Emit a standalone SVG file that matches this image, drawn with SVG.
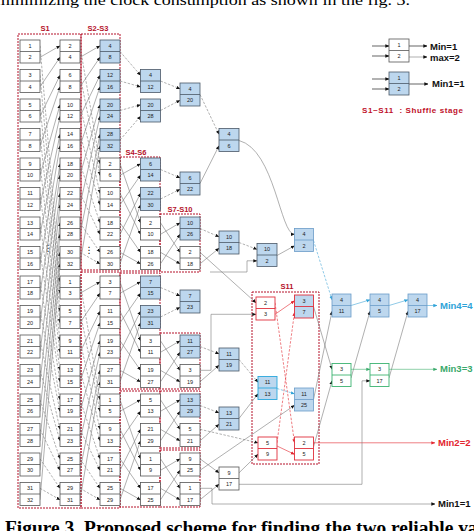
<svg xmlns="http://www.w3.org/2000/svg" width="474" height="531" viewBox="0 0 474 531">
<style>
.n text{font-family:"Liberation Sans",Arial,sans-serif;font-size:5.5px;fill:#222;text-anchor:middle}
.bw{fill:#fff;stroke:#555;stroke-width:.8}
.bb{fill:#bdd7ee;stroke:#4a5866;stroke-width:.8}
.bl{fill:#bdd7ee;stroke:#6a9cc8;stroke-width:.8}
.br{fill:#fff;stroke:#e0303c;stroke-width:.9}
.brb{fill:#bdd7ee;stroke:#e0303c;stroke-width:.9}
.bc{fill:#bdd7ee;stroke:#2aa8dc;stroke-width:.9}
.bg{fill:#fff;stroke:#3cb371;stroke-width:.9}
.c path{fill:none;stroke:#7a7a7a;stroke-width:.6;marker-end:url(#ak)}
.c path.d{stroke-dasharray:2.5 1.5}
.c path.cy{stroke:#45a6d6;marker-end:url(#ac)}
.c path.gr{stroke:#45b070;marker-end:url(#ag)}
.c path.rd{stroke:#e3262f;marker-end:url(#ar)}
.c path.k{stroke:#222;stroke-width:.7}
.stg rect{fill:none;stroke:#b5122a;stroke-width:1;stroke-dasharray:2 1}
.lab{font-family:"Liberation Sans",Arial,sans-serif;font-weight:bold;fill:#b5122a;font-size:7.5px;text-anchor:middle}
.mn{font-family:"Liberation Sans",Arial,sans-serif;font-weight:bold;font-size:9.5px}
</style>
<defs>
<marker id="ak" viewBox="0 0 6 6" refX="5.5" refY="3" markerWidth="4" markerHeight="4" markerUnits="userSpaceOnUse" orient="auto"><path d="M0,.5L6,3L0,5.5z" fill="#111"/></marker>
<marker id="ac" viewBox="0 0 6 6" refX="5.5" refY="3" markerWidth="4" markerHeight="4" markerUnits="userSpaceOnUse" orient="auto"><path d="M0,.5L6,3L0,5.5z" fill="#2ea3d8"/></marker>
<marker id="ag" viewBox="0 0 6 6" refX="5.5" refY="3" markerWidth="4" markerHeight="4" markerUnits="userSpaceOnUse" orient="auto"><path d="M0,.5L6,3L0,5.5z" fill="#39a96b"/></marker>
<marker id="ar" viewBox="0 0 6 6" refX="5.5" refY="3" markerWidth="4" markerHeight="4" markerUnits="userSpaceOnUse" orient="auto"><path d="M0,.5L6,3L0,5.5z" fill="#e3262f"/></marker>
<g id="W"><rect class="bw" width="20" height="23"/><path class="bw" d="M0 11.5H20"/></g>
<g id="B"><rect class="bb" width="20" height="23"/><path class="bb" d="M0 11.5H20"/></g>
<g id="L"><rect class="bl" width="19" height="23"/><path class="bl" d="M0 11.5H19"/></g>
<g id="R"><rect class="br" width="19" height="23"/><path class="br" d="M0 11.5H19"/></g>
<g id="RB"><rect class="brb" width="19" height="23"/><path class="brb" d="M0 11.5H19"/></g>
<g id="C"><rect class="bc" width="19" height="23"/><path class="bc" d="M0 11.5H19"/></g>
<g id="G"><rect class="bg" width="19" height="23"/><path class="bg" d="M0 11.5H19"/></g>
</defs>
<rect width="474" height="531" fill="#fff"/>
<text x="-4" y="5" font-family="Liberation Serif,serif" font-size="15" textLength="414" lengthAdjust="spacingAndGlyphs">minimizing the clock consumption as shown in the fig. 3.</text>
<text x="5" y="534" font-family="Liberation Serif,serif" font-size="18" font-weight="bold" textLength="505" lengthAdjust="spacingAndGlyphs">Figure 3. Proposed scheme for finding the two reliable values</text>

<g id="stages" class="stg">
<rect x="18" y="34" width="63" height="474"/>
<rect x="81" y="34" width="39" height="236"/>
<rect x="81" y="272" width="39" height="236"/>
<rect x="120" y="157" width="40" height="114"/>
<rect x="120" y="273" width="40" height="116"/>
<rect x="120" y="391" width="40" height="116"/>
<rect x="160" y="214" width="40" height="58"/>
<rect x="160" y="333" width="40" height="56"/>
<rect x="160" y="391" width="40" height="57"/>
<rect x="160" y="450" width="40" height="57"/>
<rect x="252" y="292" width="67" height="172"/>
</g>
<g id="labels">
<text class="lab" x="45" y="31">S1</text>
<text class="lab" x="98" y="31">S2-S3</text>
<text class="lab" x="136" y="155">S4-S6</text>
<text class="lab" x="180" y="212">S7-S10</text>
<text class="lab" x="287" y="289">S11</text>
<text x="48" y="251" font-family="DejaVu Sans,sans-serif" font-size="9" text-anchor="middle">⋮</text>
<text x="89" y="253" font-family="DejaVu Sans,sans-serif" font-size="9" text-anchor="middle">⋮</text>
<text class="mn" x="440" y="309" fill="#2ea3d8">Min4=4</text>
<text class="mn" x="440" y="372" fill="#39a96b">Min3=3</text>
<text class="mn" x="438" y="446" fill="#e3262f">Min2=2</text>
<text class="mn" x="438" y="507" fill="#111">Min1=1</text>
<text class="mn" x="430" y="49.5" fill="#111" font-size="9">Min=1</text>
<text class="mn" x="430" y="60.5" fill="#111" font-size="9">max=2</text>
<text class="mn" x="432" y="87" fill="#111" font-size="9">Min1=1</text>
<text x="362" y="113" font-family="Liberation Sans,Arial,sans-serif" font-weight="bold" font-size="8" fill="#c0102a" textLength="101" xml:space="preserve">S1~S11  : Shuffle stage</text>
</g>

<g id="connectors" class="c">
<path class="d" d="M40 45.8L60 281.8"/><path d="M40 57.3L60 45.8"/>
<path class="d" d="M40 75.3L60 293.3"/><path d="M40 86.8L60 57.3"/>
<path class="d" d="M40 104.8L60 311.3"/><path d="M40 116.3L60 75.3"/>
<path class="d" d="M40 134.3L60 322.8"/><path d="M40 145.8L60 86.8"/>
<path class="d" d="M40 163.8L60 340.8"/><path d="M40 175.3L60 104.8"/>
<path class="d" d="M40 193.3L60 352.3"/><path d="M40 204.8L60 116.3"/>
<path class="d" d="M40 222.8L60 370.3"/><path d="M40 234.3L60 134.3"/>
<path class="d" d="M40 252.3L60 381.8"/><path d="M40 263.8L60 145.8"/>
<path class="d" d="M40 281.8L60 399.8"/><path d="M40 293.3L60 163.8"/>
<path class="d" d="M40 311.3L60 411.3"/><path d="M40 322.8L60 175.3"/>
<path class="d" d="M40 340.8L60 429.3"/><path d="M40 352.3L60 193.3"/>
<path class="d" d="M40 370.3L60 440.8"/><path d="M40 381.8L60 204.8"/>
<path class="d" d="M40 399.8L60 458.8"/><path d="M40 411.3L60 222.8"/>
<path class="d" d="M40 429.3L60 470.3"/><path d="M40 440.8L60 234.3"/>
<path class="d" d="M40 458.8L60 488.3"/><path d="M40 470.3L60 252.3"/>
<path class="d" d="M40 488.3L60 499.8"/><path d="M40 499.8L60 263.8"/>

<path class="d" d="M80 45.8L100 163.8"/><path d="M80 57.3L100 45.8"/>
<path class="d" d="M80 75.3L100 175.3"/><path d="M80 86.8L100 57.3"/>
<path class="d" d="M80 104.8L100 193.3"/><path d="M80 116.3L100 75.3"/>
<path class="d" d="M80 134.3L100 204.8"/><path d="M80 145.8L100 86.8"/>
<path class="d" d="M80 163.8L100 222.8"/><path d="M80 175.3L100 104.8"/>
<path class="d" d="M80 193.3L100 234.3"/><path d="M80 204.8L100 116.3"/>
<path class="d" d="M80 222.8L100 252.3"/><path d="M80 234.3L100 134.3"/>
<path class="d" d="M80 252.3L100 263.8"/><path d="M80 263.8L100 145.8"/>
<path class="d" d="M80 281.8L100 399.8"/><path d="M80 293.3L100 281.8"/>
<path class="d" d="M80 311.3L100 411.3"/><path d="M80 322.8L100 293.3"/>
<path class="d" d="M80 340.8L100 429.3"/><path d="M80 352.3L100 311.3"/>
<path class="d" d="M80 370.3L100 440.8"/><path d="M80 381.8L100 322.8"/>
<path class="d" d="M80 399.8L100 458.8"/><path d="M80 411.3L100 340.8"/>
<path class="d" d="M80 429.3L100 470.3"/><path d="M80 440.8L100 352.3"/>
<path class="d" d="M80 458.8L100 488.3"/><path d="M80 470.3L100 370.3"/>
<path class="d" d="M80 488.3L100 499.8"/><path d="M80 499.8L100 381.8"/>

<path class="d" d="M120 51.5L140.5 75.3"/><path class="d" d="M120 81L140.5 86.8"/>
<path class="d" d="M120 110.5L140.5 104.8"/><path class="d" d="M120 140L140.5 116.3"/>
<path d="M120 163.8L140.5 222.8"/><path d="M120 175.3L140.5 163.8"/>
<path d="M120 193.3L140.5 234.3"/><path d="M120 204.8L140.5 175.3"/>
<path d="M120 222.8L140.5 252.3"/><path d="M120 234.3L140.5 193.3"/>
<path d="M120 252.3L140.5 263.8"/><path d="M120 263.8L140.5 204.8"/>
<path d="M120 281.8L140.5 340.8"/><path d="M120 293.3L140.5 281.8"/>
<path d="M120 311.3L140.5 352.3"/><path d="M120 322.8L140.5 293.3"/>
<path d="M120 340.8L140.5 370.3"/><path d="M120 352.3L140.5 311.3"/>
<path d="M120 370.3L140.5 381.8"/><path d="M120 381.8L140.5 322.8"/>
<path d="M120 399.8L140.5 458.8"/><path d="M120 411.3L140.5 399.8"/>
<path d="M120 429.3L140.5 470.3"/><path d="M120 440.8L140.5 411.3"/>
<path d="M120 458.8L140.5 488.3"/><path d="M120 470.3L140.5 429.3"/>
<path d="M120 488.3L140.5 499.8"/><path d="M120 499.8L140.5 440.8"/>

<path class="d" d="M160.5 81L180 88.8"/><path class="d" d="M160.5 110.5L180 100.3"/>
<path class="d" d="M160.5 169.5L180 177.8"/><path class="d" d="M160.5 199L180 189.3"/>
<path d="M160.5 222.8L180 252.3"/><path d="M160.5 234.3L180 222.8"/>
<path d="M160.5 252.3L180 263.8"/><path d="M160.5 263.8L180 234.3"/>
<path class="d" d="M160.5 287.5L180 295.8"/><path class="d" d="M160.5 317L180 307.3"/>
<path d="M160.5 340.8L180 370.3"/><path d="M160.5 352.3L180 340.8"/>
<path d="M160.5 370.3L180 381.8"/><path d="M160.5 381.8L180 352.3"/>
<path d="M160.5 399.8L180 429.3"/><path d="M160.5 411.3L180 399.8"/>
<path d="M160.5 429.3L180 440.8"/><path d="M160.5 440.8L180 411.3"/>
<path d="M160.5 458.8L180 488.3"/><path d="M160.5 470.3L180 458.8"/>
<path d="M160.5 488.3L180 499.8"/><path d="M160.5 499.8L180 470.3"/>

<path class="d" d="M200 94.5L219 134.3"/><path d="M200 183.5L219 145.8"/>
<path class="d" d="M200 228.5L219 236.8"/><path d="M200 263.8L219 248.3"/>
<path class="d" d="M200 346.5L219 353.8"/><path d="M200 381.8L219 365.3"/>
<path class="d" d="M200 405.5L219 412.8"/><path d="M200 440.8L219 424.3"/>
<path d="M200 458.8L219 472.8"/><path d="M200 499.8L219 484.3"/>

<path class="d" d="M239 242.5L257 249.3"/>
<path d="M210 272H247V260.8H257"/>
<path d="M200 252.3L256 302.8"/>
<path d="M200 370.3H211V314.3H256"/>
<path class="d" d="M239 359.5L258 382.3"/>
<path d="M239 418.5L258 393.8"/>
<path class="d" d="M200 429.3L258 442.8"/>
<path d="M239 472.8L258 454.3"/>

<path d="M239 140.5C275 150 280 234.3 294.5 234.3"/>
<path d="M277 255.5L294.5 245.8"/>
<path class="rd" d="M275 314.3L294.5 300.8"/>
<path class="rd d" d="M275 302.8L294.5 442.8"/>
<path class="rd d" d="M277 442.8L294.5 312.3"/>
<path class="rd" d="M277 446L294.5 454.3"/>
<path class="cy d" d="M277 388.5L294.5 393.8"/>
<path d="M200 470.3L294.5 405.3"/>

<path class="cy d" d="M313.5 240.5L332 299.8"/>
<path d="M313.5 399.5L332 311.3"/>
<path d="M313.5 306.5L332 369.3"/>
<path d="M313.5 447L332 380.8"/>
<path class="rd" d="M313.5 442.8H435"/>
<path class="cy" d="M351 305.5L370 299.8"/>
<path d="M351 378L370 311.3"/>
<path class="gr" d="M351 369.3H370"/>
<path d="M239 484.3H362V380.8H370"/>
<path class="cy" d="M389 305.5L408 299.8"/>
<path d="M389 378L408 311.3"/>
<path class="gr" d="M389 369.3H437"/>
<path class="cy" d="M427 305.5H437"/>
<path d="M200 488.3H212V504H435"/>

<path class="k" d="M372 46H389"/><path class="k" d="M372 56H389"/>
<path class="k" d="M408 46H427"/><path d="M408 57H427"/>
<path class="k" d="M372 79H389"/><path class="k" d="M372 89H389"/>
<path class="k" d="M408 84H428"/>
</g>

<g id="col1">
<g id="a1" class="n" transform="translate(20,40)"><use href="#W"/><text x="10" y="7.8">1</text><text x="10" y="19.3">2</text></g>
<g id="a2" class="n" transform="translate(20,69.5)"><use href="#W"/><text x="10" y="7.8">3</text><text x="10" y="19.3">4</text></g>
<g id="a3" class="n" transform="translate(20,99)"><use href="#W"/><text x="10" y="7.8">5</text><text x="10" y="19.3">6</text></g>
<g id="a4" class="n" transform="translate(20,128.5)"><use href="#W"/><text x="10" y="7.8">7</text><text x="10" y="19.3">8</text></g>
<g id="a5" class="n" transform="translate(20,158)"><use href="#W"/><text x="10" y="7.8">9</text><text x="10" y="19.3">10</text></g>
<g id="a6" class="n" transform="translate(20,187.5)"><use href="#W"/><text x="10" y="7.8">11</text><text x="10" y="19.3">12</text></g>
<g id="a7" class="n" transform="translate(20,217)"><use href="#W"/><text x="10" y="7.8">13</text><text x="10" y="19.3">14</text></g>
<g id="a8" class="n" transform="translate(20,246.5)"><use href="#W"/><text x="10" y="7.8">15</text><text x="10" y="19.3">16</text></g>
<g id="a9" class="n" transform="translate(20,276)"><use href="#W"/><text x="10" y="7.8">17</text><text x="10" y="19.3">18</text></g>
<g id="a10" class="n" transform="translate(20,305.5)"><use href="#W"/><text x="10" y="7.8">19</text><text x="10" y="19.3">20</text></g>
<g id="a11" class="n" transform="translate(20,335)"><use href="#W"/><text x="10" y="7.8">21</text><text x="10" y="19.3">22</text></g>
<g id="a12" class="n" transform="translate(20,364.5)"><use href="#W"/><text x="10" y="7.8">23</text><text x="10" y="19.3">24</text></g>
<g id="a13" class="n" transform="translate(20,394)"><use href="#W"/><text x="10" y="7.8">25</text><text x="10" y="19.3">26</text></g>
<g id="a14" class="n" transform="translate(20,423.5)"><use href="#W"/><text x="10" y="7.8">27</text><text x="10" y="19.3">28</text></g>
<g id="a15" class="n" transform="translate(20,453)"><use href="#W"/><text x="10" y="7.8">29</text><text x="10" y="19.3">30</text></g>
<g id="a16" class="n" transform="translate(20,482.5)"><use href="#W"/><text x="10" y="7.8">31</text><text x="10" y="19.3">32</text></g>
</g>
<g id="col2">
<g id="b1" class="n" transform="translate(60,40)"><use href="#W"/><text x="10" y="7.8">2</text><text x="10" y="19.3">4</text></g>
<g id="b2" class="n" transform="translate(60,69.5)"><use href="#W"/><text x="10" y="7.8">6</text><text x="10" y="19.3">8</text></g>
<g id="b3" class="n" transform="translate(60,99)"><use href="#W"/><text x="10" y="7.8">10</text><text x="10" y="19.3">12</text></g>
<g id="b4" class="n" transform="translate(60,128.5)"><use href="#W"/><text x="10" y="7.8">14</text><text x="10" y="19.3">16</text></g>
<g id="b5" class="n" transform="translate(60,158)"><use href="#W"/><text x="10" y="7.8">18</text><text x="10" y="19.3">20</text></g>
<g id="b6" class="n" transform="translate(60,187.5)"><use href="#W"/><text x="10" y="7.8">22</text><text x="10" y="19.3">24</text></g>
<g id="b7" class="n" transform="translate(60,217)"><use href="#W"/><text x="10" y="7.8">26</text><text x="10" y="19.3">28</text></g>
<g id="b8" class="n" transform="translate(60,246.5)"><use href="#W"/><text x="10" y="7.8">30</text><text x="10" y="19.3">32</text></g>
<g id="b9" class="n" transform="translate(60,276)"><use href="#W"/><text x="10" y="7.8">1</text><text x="10" y="19.3">3</text></g>
<g id="b10" class="n" transform="translate(60,305.5)"><use href="#W"/><text x="10" y="7.8">5</text><text x="10" y="19.3">7</text></g>
<g id="b11" class="n" transform="translate(60,335)"><use href="#W"/><text x="10" y="7.8">9</text><text x="10" y="19.3">11</text></g>
<g id="b12" class="n" transform="translate(60,364.5)"><use href="#W"/><text x="10" y="7.8">13</text><text x="10" y="19.3">15</text></g>
<g id="b13" class="n" transform="translate(60,394)"><use href="#W"/><text x="10" y="7.8">17</text><text x="10" y="19.3">19</text></g>
<g id="b14" class="n" transform="translate(60,423.5)"><use href="#W"/><text x="10" y="7.8">21</text><text x="10" y="19.3">23</text></g>
<g id="b15" class="n" transform="translate(60,453)"><use href="#W"/><text x="10" y="7.8">25</text><text x="10" y="19.3">27</text></g>
<g id="b16" class="n" transform="translate(60,482.5)"><use href="#W"/><text x="10" y="7.8">29</text><text x="10" y="19.3">31</text></g>
</g>
<g id="col3">
<g id="c1" class="n" transform="translate(100,40)"><use href="#B"/><text x="10" y="7.8">4</text><text x="10" y="19.3">8</text></g>
<g id="c2" class="n" transform="translate(100,69.5)"><use href="#B"/><text x="10" y="7.8">12</text><text x="10" y="19.3">16</text></g>
<g id="c3" class="n" transform="translate(100,99)"><use href="#B"/><text x="10" y="7.8">20</text><text x="10" y="19.3">24</text></g>
<g id="c4" class="n" transform="translate(100,128.5)"><use href="#B"/><text x="10" y="7.8">28</text><text x="10" y="19.3">32</text></g>
<g id="c5" class="n" transform="translate(100,158)"><use href="#W"/><text x="10" y="7.8">2</text><text x="10" y="19.3">6</text></g>
<g id="c6" class="n" transform="translate(100,187.5)"><use href="#W"/><text x="10" y="7.8">10</text><text x="10" y="19.3">14</text></g>
<g id="c7" class="n" transform="translate(100,217)"><use href="#W"/><text x="10" y="7.8">18</text><text x="10" y="19.3">22</text></g>
<g id="c8" class="n" transform="translate(100,246.5)"><use href="#W"/><text x="10" y="7.8">26</text><text x="10" y="19.3">30</text></g>
<g id="c9" class="n" transform="translate(100,276)"><use href="#W"/><text x="10" y="7.8">3</text><text x="10" y="19.3">7</text></g>
<g id="c10" class="n" transform="translate(100,305.5)"><use href="#W"/><text x="10" y="7.8">11</text><text x="10" y="19.3">15</text></g>
<g id="c11" class="n" transform="translate(100,335)"><use href="#W"/><text x="10" y="7.8">19</text><text x="10" y="19.3">23</text></g>
<g id="c12" class="n" transform="translate(100,364.5)"><use href="#W"/><text x="10" y="7.8">27</text><text x="10" y="19.3">31</text></g>
<g id="c13" class="n" transform="translate(100,394)"><use href="#W"/><text x="10" y="7.8">1</text><text x="10" y="19.3">5</text></g>
<g id="c14" class="n" transform="translate(100,423.5)"><use href="#W"/><text x="10" y="7.8">9</text><text x="10" y="19.3">13</text></g>
<g id="c15" class="n" transform="translate(100,453)"><use href="#W"/><text x="10" y="7.8">17</text><text x="10" y="19.3">21</text></g>
<g id="c16" class="n" transform="translate(100,482.5)"><use href="#W"/><text x="10" y="7.8">25</text><text x="10" y="19.3">29</text></g>
</g>
<g id="col4">
<g id="d1" class="n" transform="translate(140.5,69.5)"><use href="#B"/><text x="10" y="7.8">4</text><text x="10" y="19.3">12</text></g>
<g id="d2" class="n" transform="translate(140.5,99)"><use href="#B"/><text x="10" y="7.8">20</text><text x="10" y="19.3">28</text></g>
<g id="d3" class="n" transform="translate(140.5,158)"><use href="#B"/><text x="10" y="7.8">6</text><text x="10" y="19.3">14</text></g>
<g id="d4" class="n" transform="translate(140.5,187.5)"><use href="#B"/><text x="10" y="7.8">22</text><text x="10" y="19.3">30</text></g>
<g id="d5" class="n" transform="translate(140.5,217)"><use href="#W"/><text x="10" y="7.8">2</text><text x="10" y="19.3">10</text></g>
<g id="d6" class="n" transform="translate(140.5,246.5)"><use href="#W"/><text x="10" y="7.8">18</text><text x="10" y="19.3">26</text></g>
<g id="d7" class="n" transform="translate(140.5,276)"><use href="#B"/><text x="10" y="7.8">7</text><text x="10" y="19.3">15</text></g>
<g id="d8" class="n" transform="translate(140.5,305.5)"><use href="#B"/><text x="10" y="7.8">23</text><text x="10" y="19.3">31</text></g>
<g id="d9" class="n" transform="translate(140.5,335)"><use href="#W"/><text x="10" y="7.8">3</text><text x="10" y="19.3">11</text></g>
<g id="d10" class="n" transform="translate(140.5,364.5)"><use href="#W"/><text x="10" y="7.8">19</text><text x="10" y="19.3">27</text></g>
<g id="d11" class="n" transform="translate(140.5,394)"><use href="#W"/><text x="10" y="7.8">5</text><text x="10" y="19.3">13</text></g>
<g id="d12" class="n" transform="translate(140.5,423.5)"><use href="#W"/><text x="10" y="7.8">21</text><text x="10" y="19.3">29</text></g>
<g id="d13" class="n" transform="translate(140.5,453)"><use href="#W"/><text x="10" y="7.8">1</text><text x="10" y="19.3">9</text></g>
<g id="d14" class="n" transform="translate(140.5,482.5)"><use href="#W"/><text x="10" y="7.8">17</text><text x="10" y="19.3">25</text></g>
</g>
<g id="col5">
<g id="e1" class="n" transform="translate(180,83)"><use href="#B"/><text x="10" y="7.8">4</text><text x="10" y="19.3">20</text></g>
<g id="e2" class="n" transform="translate(180,172)"><use href="#B"/><text x="10" y="7.8">6</text><text x="10" y="19.3">22</text></g>
<g id="e3" class="n" transform="translate(180,217)"><use href="#B"/><text x="10" y="7.8">10</text><text x="10" y="19.3">26</text></g>
<g id="e4" class="n" transform="translate(180,246.5)"><use href="#W"/><text x="10" y="7.8">2</text><text x="10" y="19.3">18</text></g>
<g id="e5" class="n" transform="translate(180,290)"><use href="#B"/><text x="10" y="7.8">7</text><text x="10" y="19.3">23</text></g>
<g id="e6" class="n" transform="translate(180,335)"><use href="#B"/><text x="10" y="7.8">11</text><text x="10" y="19.3">27</text></g>
<g id="e7" class="n" transform="translate(180,364.5)"><use href="#W"/><text x="10" y="7.8">3</text><text x="10" y="19.3">19</text></g>
<g id="e8" class="n" transform="translate(180,394)"><use href="#B"/><text x="10" y="7.8">13</text><text x="10" y="19.3">29</text></g>
<g id="e9" class="n" transform="translate(180,423.5)"><use href="#W"/><text x="10" y="7.8">5</text><text x="10" y="19.3">21</text></g>
<g id="e10" class="n" transform="translate(180,453)"><use href="#W"/><text x="10" y="7.8">9</text><text x="10" y="19.3">25</text></g>
<g id="e11" class="n" transform="translate(180,482.5)"><use href="#W"/><text x="10" y="7.8">1</text><text x="10" y="19.3">17</text></g>
</g>
<g id="col6">
<g id="f1" class="n" transform="translate(219,128.5)"><use href="#B"/><text x="10" y="7.8">4</text><text x="10" y="19.3">6</text></g>
<g id="f2" class="n" transform="translate(219,231)"><use href="#B"/><text x="10" y="7.8">10</text><text x="10" y="19.3">18</text></g>
<g id="f3" class="n" transform="translate(219,348)"><use href="#B"/><text x="10" y="7.8">11</text><text x="10" y="19.3">19</text></g>
<g id="f4" class="n" transform="translate(219,407)"><use href="#B"/><text x="10" y="7.8">13</text><text x="10" y="19.3">21</text></g>
<g id="f5" class="n" transform="translate(219,467)"><use href="#W"/><text x="10" y="7.8">9</text><text x="10" y="19.3">17</text></g>
</g>
<g id="col7">
<g id="g1" class="n" transform="translate(257,243.5)"><use href="#B"/><text x="10" y="7.8">10</text><text x="10" y="19.3">2</text></g>
<g id="g2" class="n" transform="translate(256,297)"><use href="#R"/><text x="9.5" y="7.8">2</text><text x="9.5" y="19.3">3</text></g>
<g id="g3" class="n" transform="translate(258,376.5)"><use href="#C"/><text x="9.5" y="7.8">11</text><text x="9.5" y="19.3">13</text></g>
<g id="g4" class="n" transform="translate(258,437)"><use href="#R"/><text x="9.5" y="7.8">5</text><text x="9.5" y="19.3">9</text></g>
</g>
<g id="col8">
<g id="h1" class="n" transform="translate(294.5,228.5)"><use href="#L"/><text x="9.5" y="7.8">4</text><text x="9.5" y="19.3">2</text></g>
<g id="h2" class="n" transform="translate(294.5,295)"><use href="#RB"/><text x="9.5" y="7.8">3</text><text x="9.5" y="19.3">7</text></g>
<g id="h3" class="n" transform="translate(294.5,388)"><use href="#L"/><text x="9.5" y="7.8">11</text><text x="9.5" y="19.3">25</text></g>
<g id="h4" class="n" transform="translate(294.5,437)"><use href="#R"/><text x="9.5" y="7.8">2</text><text x="9.5" y="19.3">5</text></g>
</g>
<g id="col9">
<g id="i1" class="n" transform="translate(332,294)"><use href="#L"/><text x="9.5" y="7.8">4</text><text x="9.5" y="19.3">11</text></g>
<g id="i2" class="n" transform="translate(332,363.5)"><use href="#G"/><text x="9.5" y="7.8">3</text><text x="9.5" y="19.3">5</text></g>
</g>
<g id="col10">
<g id="j1" class="n" transform="translate(370,294)"><use href="#L"/><text x="9.5" y="7.8">4</text><text x="9.5" y="19.3">5</text></g>
<g id="j2" class="n" transform="translate(370,363.5)"><use href="#G"/><text x="9.5" y="7.8">3</text><text x="9.5" y="19.3">17</text></g>
</g>
<g id="col11">
<g id="k1" class="n" transform="translate(408,294)"><use href="#L"/><text x="9.5" y="7.8">4</text><text x="9.5" y="19.3">17</text></g>
</g>
<g id="legend">
<g id="lg1" class="n" transform="translate(389,39)"><use href="#W"/><text x="10" y="7.8">1</text><text x="10" y="19.3">2</text></g>
<g id="lg2" class="n" transform="translate(389,72)"><use href="#B"/><text x="10" y="7.8">1</text><text x="10" y="19.3">2</text></g>
</g>
</svg>
